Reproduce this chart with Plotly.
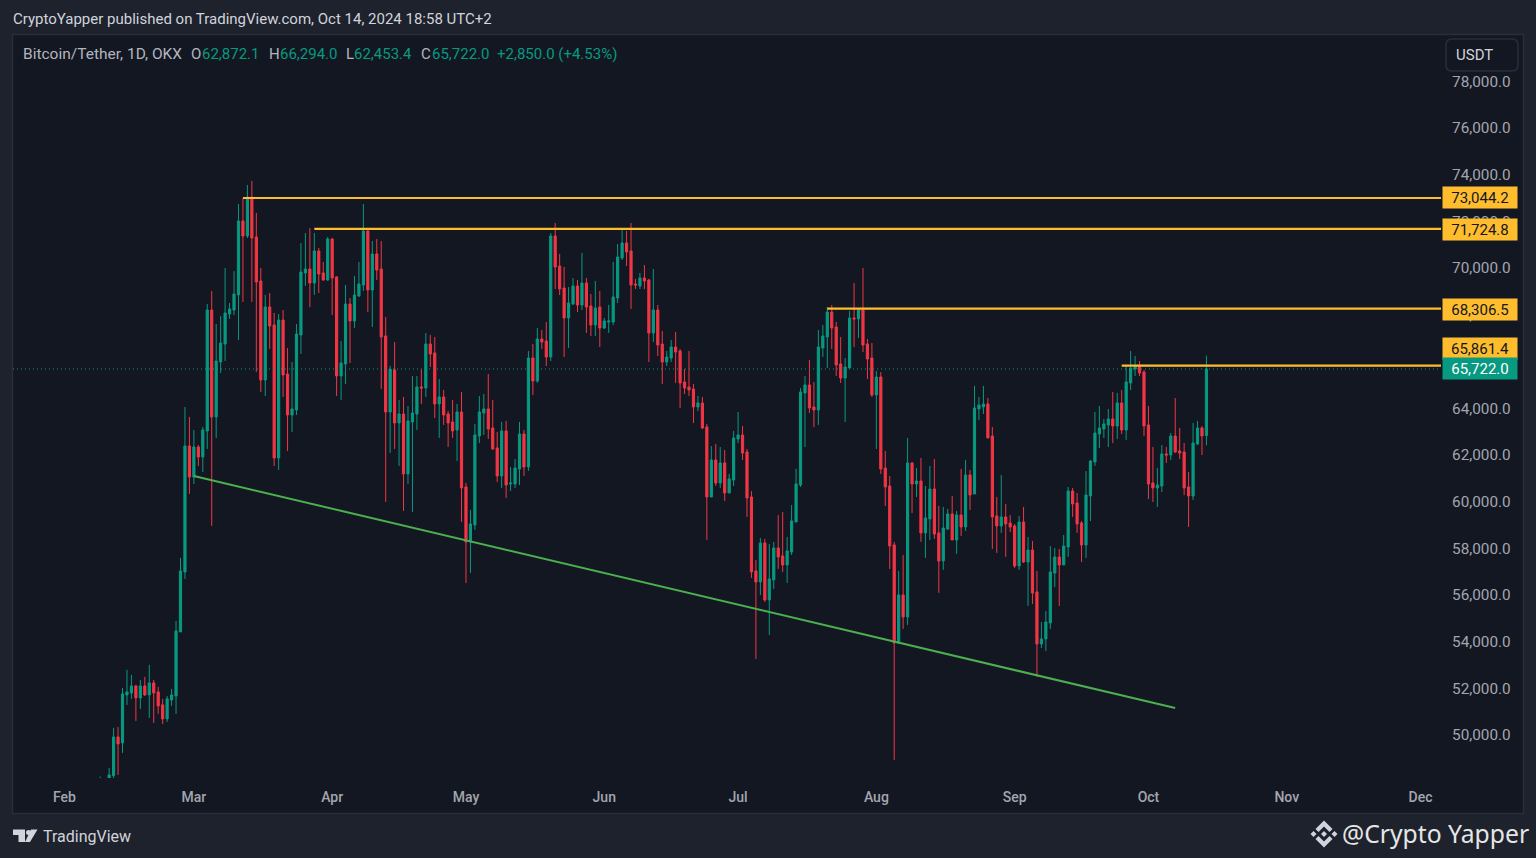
import pandas as pd
import plotly.graph_objects as go

# daily candles, 2024-02-09 to 2024-10-14
first_day = "2024-02-09"
opens = [
    # feb
    45300, 47100, 47750, 48309, 49965, 49708, 51763, 51849, 52149, 51635, 52149, 51763, 52277, 51892, 51335, 50735, 51549, 51721, 54461, 57030, 62425,
    # mar
    61098, 62382, 61954, 63067, 68248, 63667, 66022, 66792, 68077, 68248, 68891, 72059, 71417, 73087, 71374, 69490, 65251, 68377, 67606, 61911, 67820, 65508, 63752, 63966, 67178, 69833, 70004, 69404, 70775, 69833, 69533,
    # apr
    71288, 69662, 65423, 65937, 68506, 67778, 68848, 69319, 71631, 69105, 70647, 70004, 67136, 63881, 65680, 63410, 63795, 61226, 63453, 63795, 64952, 64909, 66793, 66408, 64224, 64523, 63795, 63453, 63110, 63881,
    # may
    60670, 58315, 59043, 62854, 63838, 64010, 63196, 62340, 61141, 63068, 60798, 60798, 61440, 62939, 61526, 66194, 65208, 67007, 66921, 66236, 71417, 70132, 69190, 67906, 68505, 69276, 68462, 69404, 68420, 67606, 68377,
    # jun
    67477, 67734, 67734, 68762, 70475, 71117, 70774, 69361, 69276, 69618, 69533, 67263, 68248, 66792, 66021, 66193, 66664, 66492, 65165, 64951, 64865, 64095, 64266, 63238, 60241, 61825, 60840, 61697, 60412, 60969,
    # jul
    62724, 62896, 62168, 60241, 57072, 56601, 58271, 55831, 56687, 58057, 57715, 57329, 57886, 59170, 60755, 64694, 65037, 64095, 63966, 66621, 67092, 68162, 67520, 65936, 65336, 65765, 67906, 67863, 68248, 66792, 66193,
    # aug
    64608, 65379, 61483, 60712, 58186, 53989, 56045, 55103, 61697, 60797, 60926, 58699, 59299, 60583, 58699, 57500, 58870, 59513, 58400, 59470, 58956, 61183, 60369, 64009, 64095, 64223, 62853, 59427, 59000, 59384, 59127,
    # sep
    58999, 57286, 59170, 57457, 57971, 56173, 53946, 54160, 54845, 56986, 57671, 57329, 58099, 60497, 59984, 59127, 58185, 60283, 61739, 62938, 63152, 63324, 63580, 63281, 64265, 63109, 65122, 65721, 65850, 65593,
    # oct
    63324, 60840, 60626, 60711, 62082, 62039, 62852, 62210, 62167, 60669, 60283, 62510, 63195, 62872.1,
]
highs = [
    48267, 48200, 48637, 50350, 50393, 52063, 52834, 52620, 52191, 52406, 52534, 53048, 52406, 52106, 51592, 51720, 52020, 54932, 57629, 64095, 63667,
    63110, 62468, 63239, 68505, 69062, 67649, 67991, 70047, 68548, 69918, 72787, 73044, 73601, 73772, 72402, 70047, 68891, 68976, 68120, 68077, 68248, 66621, 66022, 67649, 71117, 71545, 71760, 71545, 70903, 70304, 71374,
    71330, 69700, 66921, 69319, 68763, 69705, 70304, 72788, 71760, 71203, 71289, 71203, 67949, 65851, 66879, 64395, 64523, 64138, 65423, 65423, 65708, 67264, 67178, 67093, 65294, 64823, 63924, 64395, 64224, 64737,
    60841, 59685, 63368, 64566, 64652, 65508, 64395, 63025, 63453, 63496, 61526, 61869, 63453, 63111, 66493, 66793, 67478, 67392, 67735, 71545, 71973, 70646, 70089, 69233, 69618, 69533, 70689, 69618, 68933, 69490, 69062,
    67906, 68462, 70303, 71074, 71759, 71631, 71973, 69575, 69832, 70175, 69575, 70004, 68462, 67349, 66492, 66964, 67306, 66578, 65722, 66492, 65079, 64566, 64523, 63367, 62425, 62510, 62382, 62253, 61226, 63067,
    63880, 63281, 62296, 60498, 57543, 58485, 58443, 58228, 58314, 59470, 59599, 58528, 59898, 61440, 64908, 65422, 66107, 65165, 67392, 67606, 68376, 68462, 67734, 67092, 66193, 68205, 69404, 68334, 70046, 67006, 66835,
    65636, 65593, 62210, 61140, 58314, 57072, 57757, 62767, 61740, 61482, 61911, 60712, 61568, 61868, 59855, 59813, 59727, 60284, 59641, 61440, 61825, 61397, 64994, 64523, 64994, 64480, 63238, 60240, 61182, 59941, 59470,
    59085, 59427, 59812, 58528, 58356, 57072, 54888, 55359, 58142, 58057, 58014, 58613, 60669, 60626, 60412, 59213, 61354, 61825, 63880, 64137, 63580, 64008, 64736, 64694, 64822, 65850, 66492, 66278, 66064, 65678,
    64137, 62381, 61482, 62467, 62381, 62981, 64479, 63195, 62553, 61311, 63409, 63495, 63281, 66294,
]
lows = [
    45250, 46900, 47600, 47900, 48337, 49280, 51335, 51592, 50650, 51164, 51720, 50778, 50564, 50950, 50521, 50607, 51292, 50950, 54461, 56730, 60370,
    60798, 61568, 61312, 62296, 59000, 62768, 65551, 66064, 67863, 68034, 66964, 68591, 71331, 68591, 65594, 64737, 64566, 66578, 61568, 61397, 64523, 62211, 63024, 63752, 66364, 69276, 68377, 68891, 68976, 69500, 69500,
    68034, 64566, 64395, 65080, 65979, 67478, 68805, 69062, 68163, 67521, 69533, 64866, 60027, 62126, 62297, 61569, 59642, 60798, 59599, 63110, 64224, 64523, 65808, 63624, 62768, 63325, 62383, 62768, 61783, 59171,
    56559, 56988, 58829, 62554, 62896, 62725, 62254, 60884, 60627, 60199, 60498, 60627, 60755, 61141, 61355, 64609, 65123, 66579, 65851, 66064, 69147, 68890, 66236, 66621, 68462, 68162, 68248, 67263, 67135, 67135, 66664,
    67434, 67263, 67606, 68548, 70389, 70132, 68291, 69147, 69147, 69147, 66021, 66878, 66278, 65079, 65850, 66021, 65122, 64052, 64651, 64566, 63409, 63923, 63152, 58400, 60241, 60712, 60626, 60070, 60412, 60712,
    62553, 61825, 59385, 56773, 53304, 56044, 55745, 54332, 56301, 57158, 57030, 56559, 57757, 59170, 60669, 62382, 63838, 63238, 63324, 66236, 65765, 66578, 65422, 65122, 63452, 65765, 66664, 67049, 66450, 65293, 64523,
    62296, 61226, 59855, 57158, 48979, 53947, 54589, 54760, 59556, 60241, 58314, 57629, 58400, 58443, 56130, 57115, 58828, 58400, 57800, 58571, 58785, 59684, 60369, 63538, 63795, 62767, 58014, 57843, 58699, 57671, 58742,
    57200, 57115, 57414, 55573, 55659, 52533, 53775, 53646, 54588, 56387, 55573, 57329, 57671, 59384, 58699, 57457, 57629, 59213, 61568, 62339, 62767, 62381, 62553, 62724, 62938, 62681, 64822, 65422, 65422, 62852,
    60155, 60026, 59812, 60454, 61696, 61825, 62125, 61867, 60326, 58956, 60112, 62467, 62039, 62453.4,
]
closes = [
    47100, 47750, 48337, 49965, 49665, 51806, 51892, 52149, 51635, 52149, 51763, 52277, 51849, 51292, 50735, 51592, 51763, 54503, 57073, 62425, 61098,
    62382, 61954, 63110, 68248, 63667, 66064, 66835, 68120, 68291, 68933, 72059, 71417, 73087, 71331, 69447, 65251, 68377, 67563, 61911, 67820, 65465, 63752, 64009, 67221, 69875, 70004, 69404, 70775, 69790, 69533, 71288,
    69619, 65422, 65979, 68506, 67778, 68891, 69362, 71631, 69105, 70647, 69961, 67093, 63881, 65708, 63410, 63795, 61226, 63496, 63838, 64952, 64909, 66793, 66365, 64224, 64523, 63753, 63410, 63068, 63881, 60627,
    58315, 59085, 62896, 63881, 64010, 63153, 62297, 61141, 63068, 60755, 60841, 61483, 62939, 61526, 66194, 65208, 67007, 66878, 66236, 71417, 70089, 69147, 67906, 68548, 69276, 68462, 69404, 68377, 67606, 68334, 67477,
    67777, 67777, 68805, 70518, 71117, 70732, 69319, 69319, 69618, 69490, 67263, 68248, 66749, 66021, 66236, 66664, 66450, 65122, 64908, 64823, 64095, 64266, 63195, 60241, 61825, 60840, 61697, 60412, 61012, 62767,
    62896, 62125, 60198, 57030, 56601, 58271, 55831, 56730, 58057, 57672, 57329, 57929, 59213, 60798, 64737, 65037, 64052, 63966, 66664, 67135, 68162, 67477, 65893, 65336, 65807, 67906, 67863, 68248, 66749, 66150, 64608,
    65379, 61440, 60669, 58143, 53989, 56045, 55103, 61697, 60797, 60926, 58699, 59342, 60583, 58656, 57500, 58913, 59513, 58400, 59470, 58956, 61183, 60326, 64052, 64180, 64223, 62767, 59384, 59000, 59384, 59085, 58956,
    57286, 59170, 57457, 57971, 56130, 53946, 54160, 54888, 57029, 57671, 57329, 58142, 60497, 59941, 59085, 58185, 60326, 61782, 62981, 63195, 63366, 63580, 63281, 64265, 63109, 65165, 65764, 65850, 65550, 63281,
    60797, 60626, 60754, 62082, 62039, 62852, 62167, 62125, 60626, 60283, 62553, 63195, 62852, 65722.0,
]

# horizontal levels drawn on the chart
level_prices = [73044.2, 71724.8, 68306.5, 65861.4]
level_starts = ["2024-03-12", "2024-03-28", "2024-07-21", "2024-09-25"]
last_price = 65722.0

# support trendline
trend_dates = ["2024-03-01", "2024-10-07"]
trend_prices = [61138, 51202]

month_ticks = ["2024-02-01", "2024-03-01", "2024-04-01", "2024-05-01", "2024-06-01", "2024-07-01",
               "2024-08-01", "2024-09-01", "2024-10-01", "2024-11-01", "2024-12-01"]
month_labels = ["Feb", "Mar", "Apr", "May", "Jun", "Jul", "Aug", "Sep", "Oct", "Nov", "Dec"]
price_ticks = list(range(50000, 80000, 2000))

x_range = ["2024-01-20 10:48", "2024-12-05 14:00"]
y_range = [48205, 80025]

BG = "#1e222d"
PANE = "#131722"
EDGE = "#2a2e39"
UP = "#089981"
DOWN = "#f23645"
YELLOW = "#ffbd2e"
FONT = "Roboto"
TEXT_SIZE = 15

W, H = 1536, 858


def px(x):
    return x / W


def py(y):
    return 1 - y / H


def path(points):
    return "M" + " L".join(f"{px(x)},{py(y)}" for x, y in points) + " Z"


def label(x, y, text, color, size=TEXT_SIZE, anchor="left", **kw):
    return dict(xref="paper", yref="paper", x=px(x), y=py(y), text=text, showarrow=False, xanchor=anchor,
                yanchor="middle", font=dict(color=color, size=size, family=kw.pop("family", FONT)), **kw)


days = pd.date_range(first_day, periods=len(opens), freq="D")
assert len(opens) == len(highs) == len(lows) == len(closes) == 249

fig = go.Figure()
fig.add_trace(go.Scatter(x=x_range, y=[last_price, last_price], mode="lines",
                         line=dict(color=UP, width=1, dash="1px,3px")))
fig.add_trace(go.Candlestick(x=days, open=opens, high=highs, low=lows, close=closes, whiskerwidth=0,
                             increasing=dict(line=dict(color=UP, width=1), fillcolor=UP),
                             decreasing=dict(line=dict(color=DOWN, width=1), fillcolor=DOWN)))
fig.add_trace(go.Scatter(x=trend_dates, y=trend_prices, mode="lines", line=dict(color="#4caf50", width=2)))
for start, price in zip(level_starts, level_prices):
    fig.add_trace(go.Scatter(x=[start, x_range[1]], y=[price, price], mode="lines", line=dict(color=YELLOW, width=2.2)))

shapes = [
    dict(type="rect", xref="paper", yref="paper", x0=px(12.5), x1=px(1523.5), y0=py(813.5), y1=py(34.5),
         fillcolor=PANE, line=dict(color=EDGE, width=1.5), layer="below"),
    # USDT button
    dict(type="path", xref="paper", yref="paper", line=dict(color=EDGE, width=1.5), fillcolor=PANE,
         path=f"M{px(1452)},{py(39)} L{px(1512)},{py(39)} Q{px(1518)},{py(39)} {px(1518)},{py(45)} "
              f"L{px(1518)},{py(65)} Q{px(1518)},{py(71)} {px(1512)},{py(71)} L{px(1452)},{py(71)} "
              f"Q{px(1446)},{py(71)} {px(1446)},{py(65)} L{px(1446)},{py(45)} Q{px(1446)},{py(39)} {px(1452)},{py(39)} Z"),
    # TradingView mark
    dict(type="path", xref="paper", yref="paper", line_width=0, fillcolor="#d1d4dc",
         path=path([(13, 829.5), (25, 829.5), (25, 842), (18.5, 842), (18.5, 835), (13, 835)])),
    dict(type="path", xref="paper", yref="paper", line_width=0, fillcolor="#d1d4dc",
         path=path([(31, 829.5), (37.5, 829.5), (30, 842), (25, 842)])),
    dict(type="circle", xref="paper", yref="paper", line_width=0, fillcolor="#d1d4dc",
         x0=px(26), x1=px(31), y0=py(835), y1=py(830)),
]

# binance mark next to the handle
cx, cy = 1324, 834
mark_parts = [
    [(0, -13.5), (8.5, -5), (5.5, -2), (0, -7.5), (-5.5, -2), (-8.5, -5)],
    [(0, 13.5), (8.5, 5), (5.5, 2), (0, 7.5), (-5.5, 2), (-8.5, 5)],
    [(0, -3), (3, 0), (0, 3), (-3, 0)],
    [(-10.5, -3), (-7.5, 0), (-10.5, 3), (-13.5, 0)],
    [(10.5, -3), (13.5, 0), (10.5, 3), (7.5, 0)],
]
for part in mark_parts:
    shapes.append(dict(type="path", xref="paper", yref="paper", line_width=0, fillcolor="#d1d4dc",
                       path=path([(cx + a, cy + b) for a, b in part])))

annotations = [
    label(11, 19.5, "CryptoYapper published on TradingView.com, Oct 14, 2024 18:58 UTC+2", "#d1d4dc"),
    label(21, 54, "Bitcoin/Tether, 1D, OKX", "#b2b5be", 15.5),
    label(189, 54, "O", "#b2b5be"), label(200, 54, "62,872.1", UP),
    label(267, 54, "H", "#b2b5be"), label(278, 54, "66,294.0", UP),
    label(344, 54, "L", "#b2b5be"), label(352, 54, "62,453.4", UP),
    label(419, 54, "C", "#b2b5be"), label(430, 54, "65,722.0", UP),
    label(495, 54, "+2,850.0 (+4.53%)", UP),
    label(1474, 55, "USDT", "#d1d4dc", anchor="center"),
    label(41, 836, "TradingView", "#d1d4dc", 16),
    label(1340, 833, "@Crypto Yapper", "#e6e6e6", 24.7, family="Noto Sans"),
]

# price tags on the right edge
tag_ys = [197.5, 229, 309, 348]
for price, tag_y in zip(level_prices, tag_ys):
    annotations.append(label(1480, tag_y, f"{price:,.1f}", "#131722", anchor="center", bgcolor=YELLOW,
                             width=72, height=19, borderpad=1))
annotations.append(label(1480, 369, f"{last_price:,.1f}", "#ffffff", anchor="center", bgcolor=UP,
                         width=72, height=19, borderpad=1))

fig.update_layout(
    width=W, height=H, margin=dict(l=0, r=0, t=0, b=0), showlegend=False, dragmode=False,
    paper_bgcolor=BG, plot_bgcolor="rgba(0,0,0,0)", shapes=shapes, annotations=annotations,
    font=dict(family=FONT),
    xaxis=dict(domain=[px(13), px(1441)], range=x_range, type="date", rangeslider=dict(visible=False),
               showgrid=False, zeroline=False, showline=False, tickvals=month_ticks, ticktext=month_labels,
               ticks="outside", ticklen=6, tickcolor="rgba(0,0,0,0)",
               tickfont=dict(color="#a3a6af", size=14, family=FONT, weight=500)),
    yaxis=dict(domain=[py(778), py(35)], range=y_range, side="right", showgrid=False, zeroline=False,
               showline=False, tickvals=price_ticks, tickformat=",.1f", ticks="outside", ticklen=7,
               ticklabelshift=-1, tickcolor="rgba(0,0,0,0)", tickfont=dict(color="#a3a6af", size=15.3, family=FONT)),
)

fig.write_html("out.html", config={"displayModeBar": False},
               post_script="document.body.style.margin='0';document.body.style.overflow='hidden';")
